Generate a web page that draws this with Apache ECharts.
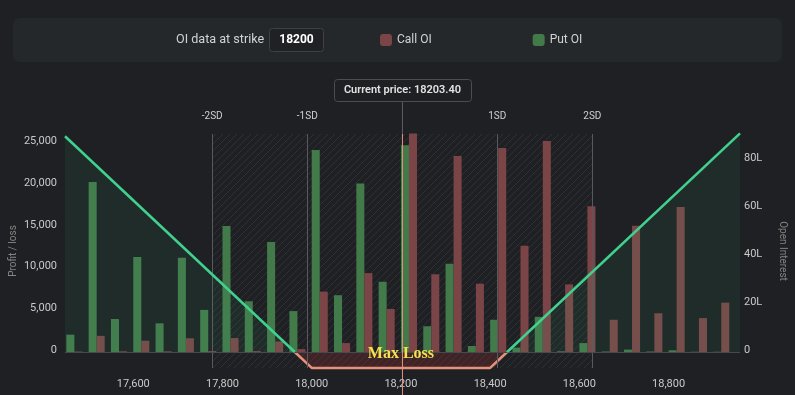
<!DOCTYPE html>
<html><head><meta charset="utf-8">
<script src="https://cdn.jsdelivr.net/npm/echarts@6/dist/echarts.min.js"></script>
<style>html,body{margin:0;padding:0;background:#1e2023;} #c{width:795px;height:395px;}</style>
</head><body><div id="c"></div>
<script>
// ---- data ----
const strikes = [17450,17500,17550,17600,17650,17700,17750,17800,17850,17900,17950,18000,18050,18100,18150,18200,18250,18300,18350,18400,18450,18500,18550,18600,18650,18700,18750,18800,18850,18900];
const putOI  = [7.2,70.7,13.7,39.5,11.9,39.2,17.5,52.4,21.1,45.7,17.0,84.0,23.6,70.0,29.2,85.9,10.7,36.7,2.5,13.4,1.8,14.6,0.3,3.7,0.2,1.0,0.2,0.7,0.1,0.1];
const callOI = [0.2,6.7,0.3,4.7,0.3,5.7,0.4,5.8,0.4,4.4,1.2,25.1,3.7,32.8,17.9,90.8,32.3,81.5,28.4,84.8,44.2,87.7,28.1,60.6,13.4,52.5,16.1,60.3,14.1,20.5];
const payoffX = [17447, 17962, 18000, 18400, 18438, 18960];
const payoffY = [25750, 0, -1900, -1900, 0, 26100];
const sdLevels = [17777, 17990, 18416, 18629];
const sdLabels = ['-2SD', '-1SD', '1SD', '2SD'];
const currentPrice = 18203.40;
const selectedStrike = '18200';
const xTicks = [17600, 17800, 18000, 18200, 18400, 18600, 18800];
const plTicks = [0, 5000, 10000, 15000, 20000, 25000];
const oiTicks = [0, 20, 40, 60, 80];

// ---- layout / style ----
const W = 795, H = 395;
const GRID = {left: 65, right: 55, top: 134, bottom: 27};
const FONT = 'Roboto, "Noto Sans", sans-serif';
const GREEN_BAR = '#437a4a', RED_BAR = '#7b4547';
const GREEN_LINE = '#41d18f', LOSS_LINE = '#e8917a';
const LABEL = '#c9c9c9';

const pts = payoffX.map((x, i) => [x, payoffY[i]]);
const lossPts = pts.slice(1, 5);
const profitL = pts.slice(0, 2);
const profitR = pts.slice(4, 6);

const pc = document.createElement('canvas'); pc.width = 7; pc.height = 7;
const g = pc.getContext('2d');
g.strokeStyle = 'rgba(255,255,255,0.075)'; g.lineWidth = 1;
g.beginPath(); g.moveTo(0,7); g.lineTo(7,0); g.moveTo(-1,1); g.lineTo(1,-1); g.moveTo(6,8); g.lineTo(8,6); g.stroke();

function barRender(offsetFrac, color) {
  return function (params, api) {
    const x = api.value(0), v = api.value(1);
    const p0 = api.coord([x, 0]);
    const p1 = api.coord([x, v]);
    const step = api.size([50, 0])[0];
    const w = step * 0.36;
    return {type: 'rect', shape: {x: p0[0] + offsetFrac * w, y: p1[1], width: w, height: Math.max(p0[1] - p1[1], 0.8)},
      style: {fill: color}};
  };
}

const chart = echarts.init(document.getElementById('c'), null, {renderer: 'canvas'});
const areaBase = {type: 'line', yAxisIndex: 0, symbol: 'none', silent: true, clip: false, z: 5};

chart.setOption({
  animation: false,
  backgroundColor: '#1e2023',
  textStyle: {fontFamily: FONT},
  grid: {left: GRID.left, right: GRID.right, top: GRID.top, bottom: GRID.bottom, containLabel: false, outerBoundsMode: 'none'},
  legend: {
    data: ['Call OI', 'Put OI'], left: 380, top: 34, padding: 0, itemWidth: 12, itemHeight: 12, itemGap: 101,
    icon: 'roundRect', textStyle: {color: '#d2d2d2', fontSize: 12, fontFamily: FONT}, selectedMode: false
  },
  xAxis: {
    type: 'value', min: 17447, max: 18960,
    axisLine: {show: false}, axisTick: {show: false}, splitLine: {show: false},
    axisLabel: {customValues: xTicks, color: LABEL, fontSize: 11, margin: 11, formatter: v => v.toLocaleString('en-US')}
  },
  yAxis: [{
    type: 'value', min: -1910, max: 26015, position: 'left',
    axisLine: {show: false}, axisTick: {show: false}, splitLine: {show: false},
    axisLabel: {customValues: plTicks, color: LABEL, fontSize: 11, margin: 8, verticalAlign: 'bottom', lineHeight: 3, formatter: v => v.toLocaleString('en-US')}
  }, {
    type: 'value', min: -6.65, max: 90.6, position: 'right',
    axisLine: {show: false}, axisTick: {show: false}, splitLine: {show: false},
    axisLabel: {customValues: oiTicks, color: LABEL, fontSize: 11, margin: 4, verticalAlign: 'bottom', lineHeight: 3, formatter: v => v === 0 ? '0' : v + 'L'},
    name: 'Open Interest', nameLocation: 'middle', nameGap: 37, nameRotate: -90, nameMoveOverlap: false,
    nameTextStyle: {color: '#858585', fontSize: 10}
  }],
  series: [
    Object.assign({}, areaBase, {
      name: 'loss', data: lossPts, z: 1,
      lineStyle: {width: 2.5, color: LOSS_LINE},
      areaStyle: {color: 'rgba(150,45,50,0.28)', opacity: 1},
      markArea: {silent: true, itemStyle: {color: {image: pc, repeat: 'repeat'}, opacity: 1},
        data: [[{xAxis: sdLevels[0]}, {xAxis: sdLevels[3]}]]},
      markLine: {silent: true, symbol: ['none', 'none'],
        lineStyle: {color: '#56595d', width: 1, type: 'solid'},
        label: {position: 'end', formatter: '{b}', color: '#d0d0d0', fontSize: 10, distance: 13},
        data: sdLevels.map((v, i) => ({xAxis: v, name: sdLabels[i]})).concat([
          {yAxis: 0, lineStyle: {color: '#46494d', width: 1, type: 'solid'}, label: {show: false}}
        ])},
      markPoint: {silent: true, symbol: 'circle', symbolSize: 0,
        label: {show: true, position: 'inside', formatter: 'Max Loss', color: '#f4e14c', fontSize: 16, fontWeight: 'bold', fontFamily: '"Liberation Serif", "DejaVu Serif", serif'},
        data: [{coord: [18200, -240]}]}
    }),
    Object.assign({}, areaBase, {name: 'profitL', data: profitL, lineStyle: {width: 2.5, color: GREEN_LINE}, areaStyle: {color: 'rgba(64,200,130,0.075)', opacity: 1}}),
    Object.assign({}, areaBase, {name: 'profitR', data: profitR, lineStyle: {width: 2.5, color: GREEN_LINE}, areaStyle: {color: 'rgba(64,200,130,0.075)', opacity: 1}}),
    {name: 'Put OI', type: 'custom', yAxisIndex: 1, z: 2, silent: true, itemStyle: {color: GREEN_BAR},
      renderItem: barRender(0, GREEN_BAR), encode: {x: 0, y: 1},
      data: strikes.map((s, i) => [s, putOI[i]])},
    {name: 'Call OI', type: 'custom', yAxisIndex: 1, z: 2, silent: true, itemStyle: {color: RED_BAR},
      renderItem: barRender(1, RED_BAR), encode: {x: 0, y: 1},
      data: strikes.map((s, i) => [s, callOI[i]])}
  ]
});

const px = chart.convertToPixel({xAxisIndex: 0}, currentPrice);
const gridTop = GRID.top, gridBottom = H - GRID.bottom;
const priceText = 'Current price: ' + currentPrice.toFixed(2);
chart.setOption({
  graphic: [
    {type: 'rect', z: 0, shape: {x: 13, y: 18, width: 769, height: 44, r: 7}, style: {fill: '#25282b'}},
    {type: 'text', x: 176, y: 40, style: {text: 'OI data at strike', fill: '#d2d2d2', font: '12.6px ' + FONT, verticalAlign: 'middle'}},
    {type: 'rect', shape: {x: 269.5, y: 28.5, width: 54, height: 23, r: 3}, style: {fill: '#1f2124', stroke: '#3f4245', lineWidth: 1}},
    {type: 'text', x: 296.5, y: 40, style: {text: selectedStrike, fill: '#ffffff', font: 'bold 12px ' + FONT, align: 'center', verticalAlign: 'middle'}},
    {type: 'text', x: 13.5, y: (gridTop + gridBottom) / 2, rotation: Math.PI / 2,
      style: {text: 'Profit / loss', fill: '#858585', font: '10px ' + FONT, align: 'center', verticalAlign: 'middle'}},
    {type: 'line', z: 10, shape: {x1: px, y1: 101.5, x2: px, y2: gridTop}, style: {stroke: '#5c5f63', lineWidth: 1}},
    {type: 'line', z: 10, shape: {x1: px, y1: gridTop, x2: px, y2: H}, style: {stroke: '#e8937c', lineWidth: 1}},
    {type: 'rect', z: 10, shape: {x: Math.round(px - 68.5) + 0.5, y: 79.5, width: 137, height: 22, r: 3}, style: {fill: '#1e2023', stroke: '#4a4d51', lineWidth: 1}},
    {type: 'text', z: 11, x: px, y: 90.5, style: {text: priceText, fill: '#e2e2e2', font: '600 11px ' + FONT, align: 'center', verticalAlign: 'middle'}}
  ]
});
</script>
</body></html>
